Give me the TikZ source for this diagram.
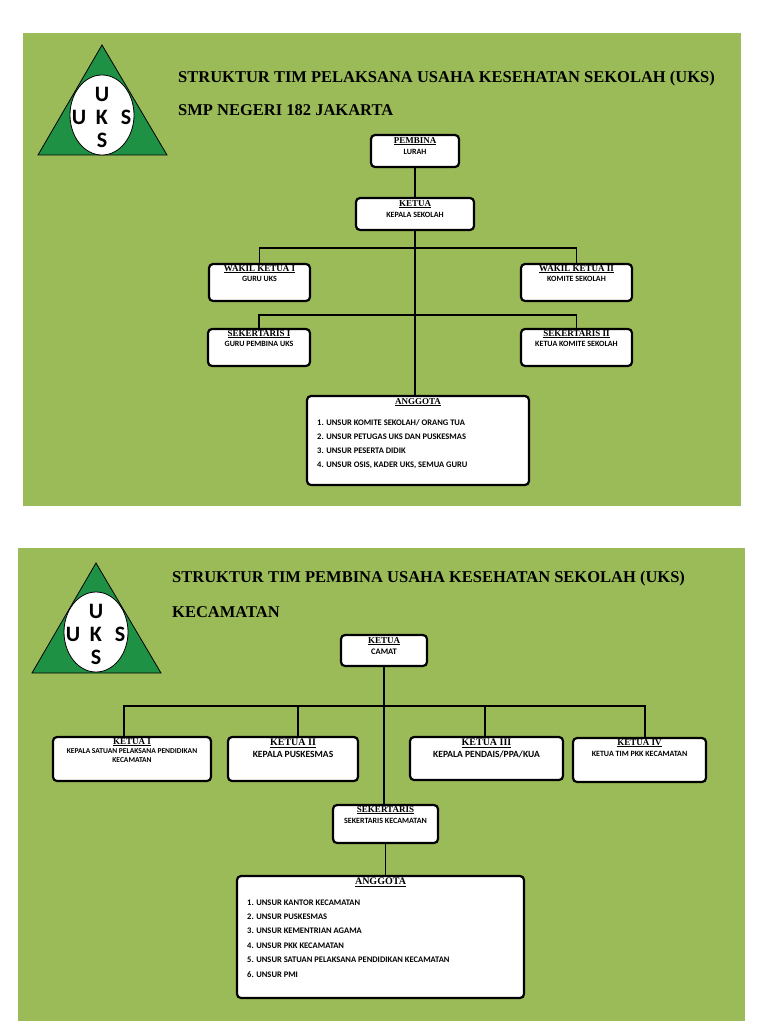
\documentclass[tikz,border=0pt]{standalone}
\usepackage{fontspec}
\setmainfont{Liberation Serif}
\setsansfont{Carlito}
\usetikzlibrary{positioning,shapes.geometric}
\definecolor{bg}{HTML}{9BBB59}
\definecolor{logog}{HTML}{1E9145}
\tikzset{
 box/.style={draw=black,fill=white,line width=2.2pt,rounded corners=4pt,inner sep=0pt},
 ttl/.style={anchor=west,inner sep=0pt,font=\bfseries\fontsize{16.5}{16.5}\selectfont},
 hd/.style={anchor=north,inner sep=0pt,font=\bfseries\fontsize{9}{9}\selectfont},
 sub/.style={anchor=north,inner sep=0pt,font=\sffamily\bfseries\fontsize{8}{9.5}\selectfont,align=center},
 li/.style={anchor=west,inner sep=0pt,font=\sffamily\bfseries\fontsize{8.5}{9}\selectfont},
 ln/.style={line width=1.8pt},
 lt/.style={font=\sffamily\bfseries\fontsize{22}{22}\selectfont,inner sep=0pt}
}
\newcommand{\bx}[5]{\node[box,minimum width=#4-#2,minimum height=#5-#3] (#1) at ({(#2+#4)/2},{(#3+#5)/2}) {};}
\newcommand{\logo}[3]{%
 \fill[logog,draw=black,line width=0.8pt] (#1,#2-#3) -- (#1-64,#2-#3+110) -- (#1+65,#2-#3+110) -- cycle;
 \node[draw=black,fill=white,ellipse,minimum width=64,minimum height=80,inner sep=0pt,line width=0.8pt] (e#1) at (#1,#2) {};
 \node[lt] (u1#1) at (#1,#2-21) {U};
 \node[lt] (u2#1) at (#1-23,#2+2) {U};
 \node[lt] (k#1) at (#1,#2+2) {K};
 \node[lt] (s1#1) at (#1+24,#2+2) {S};
 \node[lt] (s2#1) at (#1,#2+25) {S};}
\begin{document}
\begin{tikzpicture}[x=1pt,y=-1pt]
\useasboundingbox (0,0) rectangle (768,1024);
\fill[white] (0,0) rectangle (768,1024);
\fill[bg] (23,33) rectangle (741,506);
\fill[bg] (18,548) rectangle (745,1021);
\logo{102}{115}{70}
\logo{96}{632}{69}
% panel 1
\node[ttl] (t1) at (178,79) {STRUKTUR TIM PELAKSANA USAHA KESEHATAN SEKOLAH (UKS)};
\node[ttl] (t2) at (178,110) {SMP NEGERI 182 JAKARTA};
\bx{pem}{371}{135}{459}{167}
\bx{ket}{356}{198}{474}{230}
\bx{w1}{209}{264}{310}{301}
\bx{w2}{521}{264}{632}{301}
\bx{s1}{208}{329}{310}{366}
\bx{s2}{521}{329}{632}{366}
\bx{ang}{307}{396}{529}{485}
\coordinate (b1) at (415,248);
\coordinate (b2) at (415,315);
\draw[ln] (pem.south) -- (ket.north);
\draw[ln] (ket.south) -- (ket.south |- ang.north);
\draw[ln] (w1.north) |- (b1) -| (w2.north);
\draw[ln] (s1.north) |- (b2) -| (s2.north);
\node[hd] (pemh) at ([yshift=-3]pem.north) {\underline{PEMBINA}};
\node[sub] (pems) at ([yshift=-15]pem.north) {LURAH};
\node[hd] (keth) at ([yshift=-3]ket.north) {\underline{KETUA}};
\node[sub] (kets) at ([yshift=-15]ket.north) {KEPALA SEKOLAH};
\node[hd] (w1h) at ([yshift=-2]w1.north) {\underline{WAKIL KETUA I}};
\node[sub] (w1s) at ([yshift=-13]w1.north) {GURU UKS};
\node[hd] (w2h) at ([yshift=-2]w2.north) {\underline{WAKIL KETUA II}};
\node[sub] (w2s) at ([yshift=-13]w2.north) {KOMITE SEKOLAH};
\node[hd] (s1h) at ([yshift=-2]s1.north) {\underline{SEKERTARIS I}};
\node[sub] (s1s) at ([yshift=-13]s1.north) {GURU PEMBINA UKS};
\node[hd] (s2h) at ([yshift=-2]s2.north) {\underline{SEKERTARIS II}};
\node[sub] (s2s) at ([yshift=-13]s2.north) {KETUA KOMITE SEKOLAH};
\node[hd] (angh) at ([yshift=-3]ang.north) {\underline{ANGGOTA}};
\node[li] (a1) at (317,423) {1. UNSUR KOMITE SEKOLAH/ ORANG TUA};
\node[li] (a2) at (317,437) {2. UNSUR PETUGAS UKS DAN PUSKESMAS};
\node[li] (a3) at (317,451) {3. UNSUR PESERTA DIDIK};
\node[li] (a4) at (317,465) {4. UNSUR OSIS, KADER UKS, SEMUA GURU};
% panel 2
\node[ttl] (t3) at (172,579) {STRUKTUR TIM PEMBINA USAHA KESEHATAN SEKOLAH (UKS)};
\node[ttl] (t4) at (172,612) {KECAMATAN};
\bx{cam}{341}{635}{427}{666}
\bx{k1}{53}{737}{211}{781}
\bx{k2}{228}{737}{358}{781}
\bx{k3}{410}{737}{563}{780}
\bx{k4}{573}{738}{706}{782}
\bx{sek}{333}{805}{438}{843}
\bx{ang2}{237}{876}{524}{998}
\coordinate (c1) at (384,706);
\draw[ln] (cam.south) -- (cam.south |- sek.north);
\draw[ln] (sek.south) -- (sek.south |- ang2.north);
\draw[ln] (124,737) |- (c1) -| (645,738);
\draw[ln] (298,737) -- (298,706);
\draw[ln] (485,737) -- (485,706);
\node[hd] (camh) at ([yshift=-3]cam.north) {\underline{KETUA}};
\node[sub,font=\sffamily\bfseries\fontsize{8.5}{9.5}\selectfont] (cams) at ([yshift=-15]cam.north) {CAMAT};
\node[hd] (k1h) at ([yshift=-2]k1.north) {\underline{KETUA I}};
\node[sub,font=\sffamily\bfseries\fontsize{7.5}{9}\selectfont] (k1s) at ([yshift=-12]k1.north) {KEPALA SATUAN PELAKSANA PENDIDIKAN\\KECAMATAN};
\node[hd,font=\bfseries\fontsize{10}{10}\selectfont] (k2h) at ([yshift=-3]k2.north) {\underline{KETUA II}};
\node[sub,font=\sffamily\bfseries\fontsize{9.5}{10}\selectfont] (k2s) at ([yshift=-15]k2.north) {KEPALA PUSKESMAS};
\node[hd,font=\bfseries\fontsize{10}{10}\selectfont] (k3h) at ([yshift=-3]k3.north) {\underline{KETUA III}};
\node[sub,font=\sffamily\bfseries\fontsize{9.5}{10}\selectfont] (k3s) at ([yshift=-15]k3.north) {KEPALA PENDAIS/PPA/KUA};
\node[hd] (k4h) at ([yshift=-2]k4.north) {\underline{KETUA IV}};
\node[sub] (k4s) at ([yshift=-14]k4.north) {KETUA TIM PKK KECAMATAN};
\node[hd] (sekh) at ([yshift=-2]sek.north) {\underline{SEKERTARIS}};
\node[sub] (seks) at ([yshift=-14]sek.north) {SEKERTARIS KECAMATAN};
\node[hd,font=\bfseries\fontsize{10}{10}\selectfont] (ang2h) at ([yshift=-3]ang2.north) {\underline{ANGGOTA}};
\node[li] (b1x) at (247,903) {1. UNSUR KANTOR KECAMATAN};
\node[li] (b2x) at (247,917) {2. UNSUR PUSKESMAS};
\node[li] (b3x) at (247,931) {3. UNSUR KEMENTRIAN AGAMA};
\node[li] (b4x) at (247,946) {4. UNSUR PKK KECAMATAN};
\node[li] (b5x) at (247,960) {5. UNSUR SATUAN PELAKSANA PENDIDIKAN KECAMATAN};
\node[li] (b6x) at (247,975) {6. UNSUR PMI};
\end{tikzpicture}
\end{document}
